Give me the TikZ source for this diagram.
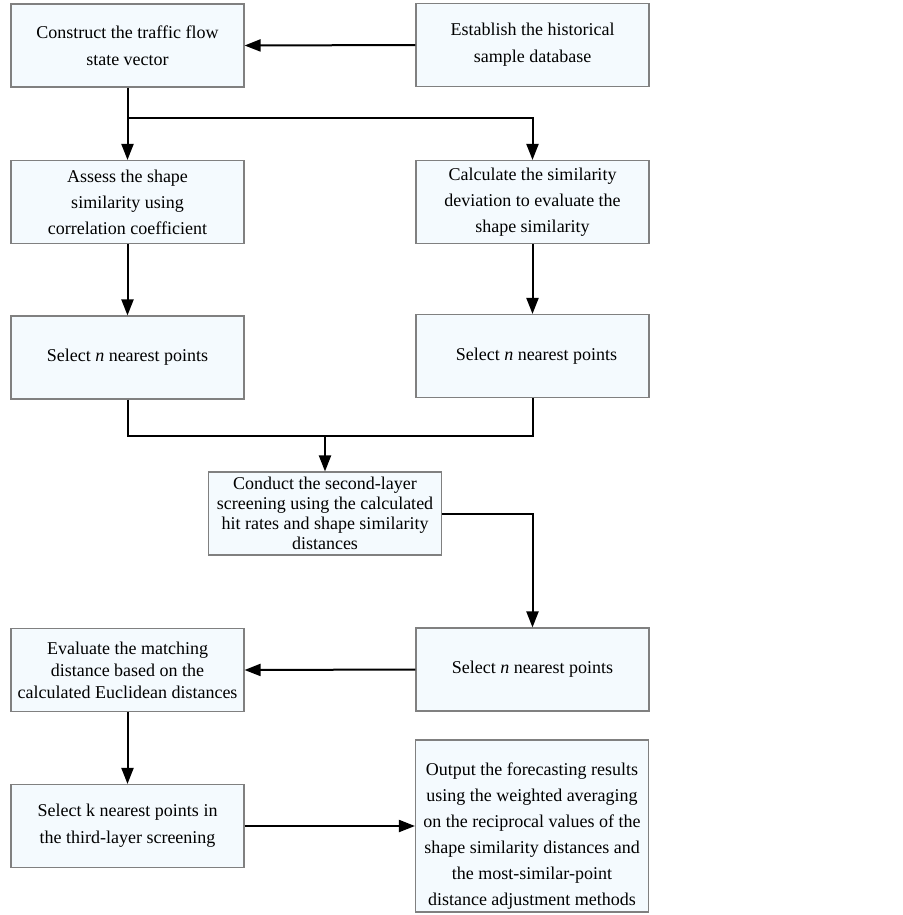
\documentclass[tikz,border=0pt]{standalone}
\usepackage{fontspec}
\setmainfont{Liberation Serif}
\usetikzlibrary{arrows.meta}
\definecolor{boxfill}{HTML}{F4FAFE}
\definecolor{boxline}{HTML}{808080}
\tikzset{
  box/.style={draw=boxline, line width=1.1pt, fill=boxfill, minimum width=174.5pt, minimum height=62pt, inner sep=2pt, align=center, anchor=center},
  conn/.style={line width=1.5pt, black},
  arr/.style={conn, -{Triangle[length=12pt,width=9pt]}},
  ls27/.style={font=\fontsize{13.5}{20.2}\selectfont},
  ls20/.style={font=\fontsize{13.5}{15}\selectfont},
  ls22/.style={font=\fontsize{13.5}{16.5}\selectfont},
  ls26/.style={font=\fontsize{13.5}{19.5}\selectfont},
}
\begin{document}
\begin{tikzpicture}[x=0.75pt,y=-0.75pt]
\useasboundingbox (0,0) rectangle (903,915);
\node[box,ls27] (A) at (127.5,45.5) {Construct the traffic flow\\state vector};
\node[box,ls27] (B) at (532.5,45) {Establish the historical\\sample database};
\node[box,ls26] (C) at (127.5,202) {Assess the shape\\similarity using\\correlation coefficient};
\node[box,ls26] (D) at (532.5,202) {Calculate the similarity\\deviation to evaluate the\\shape similarity};
\node[box,ls27] (E) at (127.5,357.5) {Select \textit{n} nearest points};
\node[box,ls27] (F) at (532.5,356) {\hspace*{6pt}Select \textit{n} nearest points};
\node[box,ls20] (G) at (325,513.5) {Conduct the second-layer\\screening using the calculated\\hit rates and shape similarity\\distances};
\node[box,ls27] (H) at (532.5,669.5) {Select \textit{n} nearest points};
\node[box,ls22] (I) at (127.5,670) {Evaluate the matching\\distance based on the\\calculated Euclidean distances};
\node[box,ls27] (J) at (127.5,826) {Select k nearest points in\\the third-layer screening};
\node[box,ls26,minimum height=129pt] (K) at (532,826) {\rule{0pt}{24pt}Output the forecasting results\\using the weighted averaging\\on the reciprocal values of the\\shape similarity distances and\\the most-similar-point\\distance adjustment methods};
\coordinate (s1) at (127.5,118);
\coordinate (s2) at (532.5,118);
\coordinate (m1) at (127.5,436);
\coordinate (m2) at (532.5,436);
\coordinate (m0) at (325,436);
\coordinate (g1) at (532.5,513.5);
\draw[arr] (B.west) -- (A.east);
\draw[arr] (A.south) -- (C.north);
\draw[arr] (s1) -- (s2) -- (D.north);
\draw[arr] (C.south) -- (E.north);
\draw[arr] (D.south) -- (F.north);
\draw[conn] (E.south) -- (m1) -- (m2) -- (F.south);
\draw[arr] (m0) -- (G.north);
\draw[arr] (G.east) -- (g1) -- (H.north);
\draw[arr] (H.west) -- (I.east);
\draw[arr] (I.south) -- (J.north);
\draw[arr] (J.east) -- (J.east -| K.west);
\end{tikzpicture}
\end{document}
